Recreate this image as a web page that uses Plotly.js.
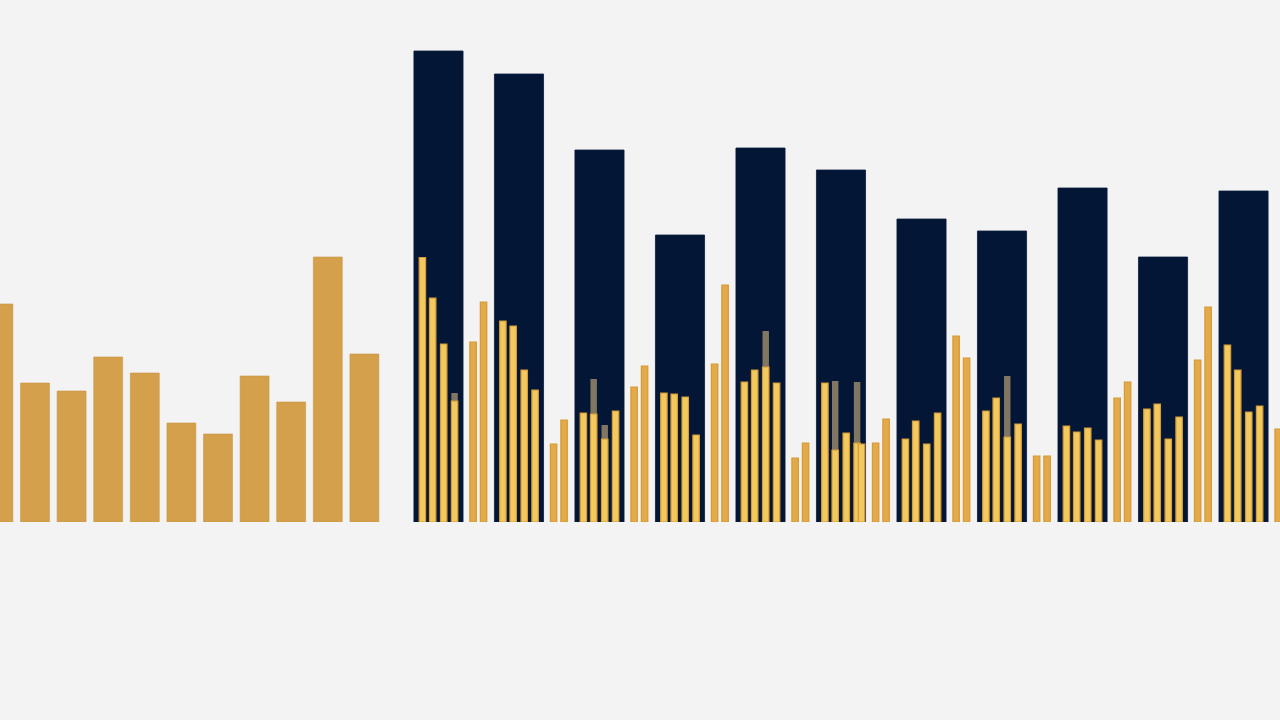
<!DOCTYPE html>
<html>
<head>
<meta charset="utf-8">
<script src="https://cdn.plot.ly/plotly-3.0.1.min.js"></script>
<style>
  html, body { margin: 0; padding: 0; background: #f3f3f4; }
  #chart { width: 1280px; height: 720px; }
</style>
</head>
<body>
<div id="chart"></div>
<script>
// ---- Left panel: gold bars ----
const leftIdx = [0, 1, 2, 3, 4, 5, 6, 7, 8, 9, 10];
const leftGold = [43.6, 27.8, 26.2, 33.0, 29.8, 19.8, 17.6, 29.2, 24.0, 53.0, 33.6];

// ---- Right panel: navy bars with thin gold bars ----
const groups = [0, 1, 2, 3, 4, 5, 6, 7, 8, 9, 10];
const navy = [94.2, 89.6, 74.4, 57.4, 74.8, 70.4, 60.6, 58.2, 66.8, 53.0, 66.2];

const thinA = [52.9, 40.2, 21.8, 25.8, 28.0, 27.8, 16.6, 22.2, 19.2, 22.6, 35.4];
const thinB = [44.8, 39.2, 21.6, 25.6, 30.4, 14.4, 20.2, 24.8, 18.0, 23.6, 30.4];
const thinC = [35.6, 30.4, 16.6, 25.0, 31.0, 17.8, 15.6, 17.0, 18.8, 16.6, 22.0];
const thinD = [24.2, 26.4, 22.2, 17.4, 27.8, 15.8, 21.8, 19.6, 16.4, 21.0, 23.2];
const thinExtra = [null, null, null, null, null, 15.6, null, null, null, null, null];
const gapE = [36.0, 15.6, 27.0, 31.6, 12.8, 15.8, 37.2, 13.2, 24.8, 32.4, 18.6];
const gapF = [44.0, 20.4, 31.2, 47.4, 15.8, 20.6, 32.8, 13.2, 28.0, 43.0, null];

// faint grey "shadow" tips behind some thin bars
const shadowB = [null, null, 28.6, null, null, 28.2, null, null, null, null, null];
const shadowC = [null, null, 19.4, null, 38.2, null, null, 29.2, null, null, null];
const shadowD = [25.8, null, null, null, null, 28.0, null, null, null, null, null];

const GOLD_LEFT = '#d4a04b';
const NAVY = '#031635';
const GOLD_IN = '#f1c95e';
const GOLD_GAP = '#e2aa48';
const GOLD_EDGE = '#d69a36';
const SHADOW = 'rgba(150,135,105,0.85)';

const thinW = 0.08;
function thin(y, offset, color) {
  return {
    type: 'bar', x: groups, y: y, xaxis: 'x2', yaxis: 'y',
    width: thinW, offset: offset,
    marker: { color: color, line: { color: GOLD_EDGE, width: 1.2 } },
    hoverinfo: 'skip'
  };
}
function shadow(y, offset) {
  return {
    type: 'bar', x: groups, y: y, xaxis: 'x2', yaxis: 'y',
    width: thinW, offset: offset,
    marker: { color: SHADOW, line: { width: 0 } },
    hoverinfo: 'skip'
  };
}

const offA = -0.24, offB = -0.112, offC = 0.025, offD = 0.16, offX = 0.215;
const offE = 0.39, offF = 0.52;

const data = [
  {
    type: 'bar', x: leftIdx, y: leftGold, xaxis: 'x', yaxis: 'y',
    width: 0.79, marker: { color: GOLD_LEFT, line: { color: '#c9953f', width: 0.6 } },
    hoverinfo: 'skip'
  },
  {
    type: 'bar', x: groups, y: navy, xaxis: 'x2', yaxis: 'y',
    width: 0.61, marker: { color: NAVY, line: { color: '#0a1c3e', width: 0.8 } },
    hoverinfo: 'skip'
  },
  shadow(shadowB, offB),
  shadow(shadowC, offC),
  shadow(shadowD, offD),
  thin(thinA, offA, GOLD_IN),
  thin(thinB, offB, GOLD_IN),
  thin(thinC, offC, GOLD_IN),
  thin(thinD, offD, GOLD_IN),
  thin(thinExtra, offX, GOLD_IN),
  thin(gapE, offE, GOLD_GAP),
  thin(gapF, offF, GOLD_GAP)
];

const layout = {
  width: 1280, height: 720,
  margin: { l: 0, r: 0, t: 0, b: 198, pad: 0 },
  paper_bgcolor: '#f3f3f4',
  plot_bgcolor: '#f3f3f4',
  barmode: 'overlay',
  showlegend: false,
  xaxis: { domain: [0, 0.3047], range: [0.044, 10.70], visible: false, fixedrange: true },
  xaxis2: { domain: [0.3125, 1], range: [-0.478, 10.453], visible: false, fixedrange: true, anchor: 'y' },
  yaxis: { range: [0, 104.4], visible: false, fixedrange: true }
};

Plotly.newPlot('chart', data, layout, { displayModeBar: false, staticPlot: true });
</script>
</body>
</html>
